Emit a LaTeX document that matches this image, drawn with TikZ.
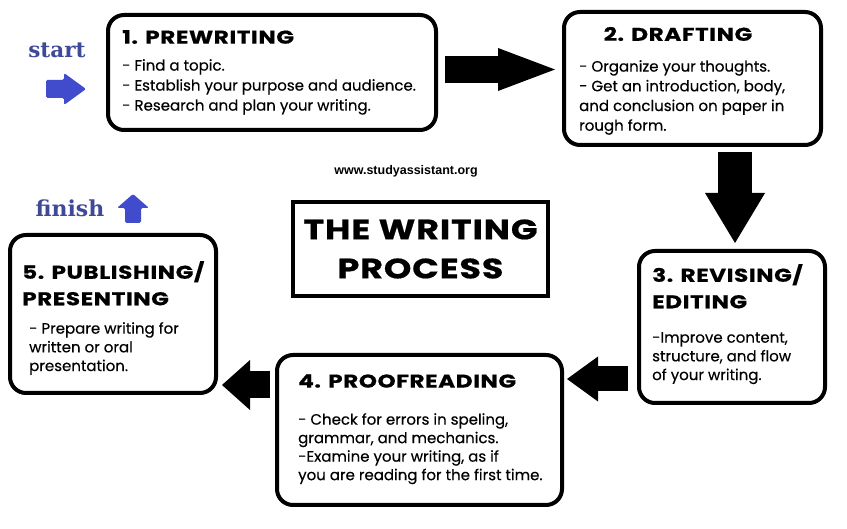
\documentclass[tikz,border=0pt]{standalone}
\usepackage{fontspec}
\setmainfont{Poppins}[FakeBold=0.35]
\newfontfamily\headfont{Poppins}[FakeStretch=1.25,LetterSpace=3,FakeBold=0.6]
\newfontfamily\webfont{Liberation Sans}
\newfontfamily\markfont{DejaVu Serif}
\usetikzlibrary{positioning,calc,arrows.meta}

\definecolor{markblue}{RGB}{62,74,152}
\definecolor{iconblue}{RGB}{64,76,204}

\tikzset{
  stage/.style={draw, line width=4pt, rounded corners=16pt},
  titlebox/.style={draw, line width=4pt, align=center, font=\headfont\bfseries\fontsize{28}{39}\selectfont},
  head/.style={inner sep=0pt, align=left, font=\headfont\bfseries\fontsize{18.5}{26.5}\selectfont},
  body/.style={inner sep=0pt, align=left, font=\fontsize{15}{#1}\selectfont},
  body/.default=20,
  tag/.style={inner sep=0pt, text=markblue, font=\markfont\bfseries\fontsize{#1}{#1}\selectfont},
}

\begin{document}
\begin{tikzpicture}[x=1pt, y=-1pt]
  \useasboundingbox (0,0) rectangle (847,529);

	%draw the five stages
    \foreach \name/\cx/\cy/\w/\h in {b1/272/72.5/328/115, b2/692.5/78.5/257/133, b3/732/327/186/152, b4/419.5/430/285/150, b5/113/314/206/158}{
         \node[stage, minimum width=\w pt, minimum height=\h pt] (\name) at (\cx,\cy) {};
    }

	%headings
    \node[head, anchor=west] (h1) at (122,37) {1. PREWRITING};
    \node[head] (h2) at (678,34) {2. DRAFTING};
    \node[head, anchor=north west] (h3) at (652,264) {3. REVISING/\\EDITING};
    \node[head, anchor=west] (h4) at (298,381) {4. PROOFREADING};
    \node[head, anchor=north west] (h5) at (22,261) {5. PUBLISHING/\\PRESENTING};

	%text of the stages
    \node[body=20, anchor=north west] (t1) at (122,59) {- Find a topic.\\- Establish your purpose and audience.\\- Research and plan your writing.};
    \node[body=19.7, anchor=north west] (t2) at (579,60) {- Organize your thoughts.\\- Get an introduction, body,\\and conclusion on paper in\\rough form.};
    \node[body=18.7, anchor=north west] (t3) at (652,332) {-Improve content,\\structure, and flow\\of your writing.};
    \node[body=18.5, anchor=north west] (t4) at (298,413) {- Check for errors in speling,\\grammar, and mechanics.\\-Examine your writing, as if\\you are reading for the first time.};
    \node[body=18.7, anchor=north west] (t5) at (29,322) {- Prepare writing for\\written or oral\\presentation.};

	%title
    \node[titlebox, minimum width=255pt, minimum height=94pt] (title) at (420.5,249) {THE WRITING\\PROCESS};
    \node[font=\webfont\bfseries\fontsize{12.5}{12.5}\selectfont] (web) at (406,171) {www.studyassistant.org};

	%start and finish
    \node[tag=21.5] (start) at (57,50) {start};
    \fill[iconblue, rounded corners=1.5pt] (46,80) -- (64,80) -- (64,73) -- (86,89) -- (64,105) -- (64,98) -- (46,98) -- cycle;
    \node[tag=22] (finish) at (70,208) {finish};
    \fill[iconblue, rounded corners=1.5pt] (125,223) -- (125,208) -- (117,208) -- (133,194) -- (149,208) -- (141,208) -- (141,223) -- cycle;

	%arrows between the stages
    \coordinate (a12) at ($(b1.east)+(0,-3)$);
    \coordinate (a23) at ($(b2.south -| b3.north)+(3,0)$);
    \coordinate (a34) at ($(b3.west)+(0,52)$);
    \coordinate (a45) at ($(b4.west)+(0,-45)$);

    \draw[line width=27pt, shorten <=7pt, shorten >=7pt, -{Triangle[length=57pt,width=43pt,line width=0pt]}] (a12) -- (a12 -| b2.west);
    \draw[line width=34pt, shorten <=5pt, shorten >=6pt, -{Triangle[length=50pt,width=60pt,line width=0pt]}] (a23) -- (a23 |- b3.north);
    \draw[line width=25pt, shorten <=9pt, shorten >=3pt, -{Triangle[length=31pt,width=45pt,line width=0pt]}] (a34) -- (a34 -| b4.east);
    \draw[line width=27pt, shorten <=5pt, shorten >=4pt, -{Triangle[length=28pt,width=50pt,line width=0pt]}] (a45) -- (a45 -| b5.east);

\end{tikzpicture}
\end{document}
